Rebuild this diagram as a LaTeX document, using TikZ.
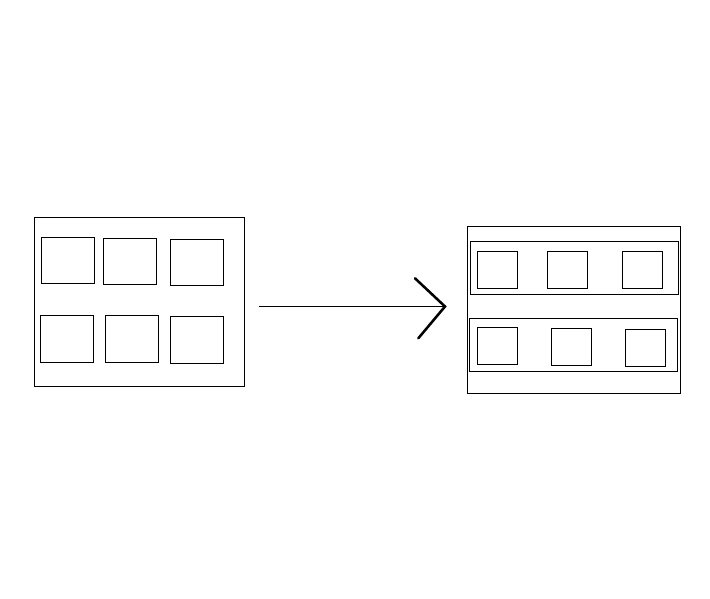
\documentclass[tikz,border=0pt]{standalone}
\usepackage{tikz}
\usetikzlibrary{calc}
\usetikzlibrary{positioning}

\begin{document}
\begin{tikzpicture}[x=0.75pt, y=-0.75pt, line width=0.75pt]
			\useasboundingbox (0,0) rectangle (710,599);

			% left: six loose boxes
			\draw (34.5,217.5) rectangle (244.5,386.5);
			\draw (41.5,237.5) rectangle (94.5,283.5);
			\draw (103.5,238.5) rectangle (156.5,284.5);
			\draw (170.5,239.5) rectangle (223.5,285.5);
			\draw (40.5,315.5) rectangle (93.5,362.5);
			\draw (105.5,315.5) rectangle (158.5,362.5);
			\draw (170.5,316.5) rectangle (223.5,363.5);

			% arrow
			\coordinate (tail) at (259,306.5);
			\coordinate (tip) at (445,306.5);
			\coordinate (u) at (415,278.3);
			\coordinate (l) at (418.3,338.3);
			\draw (tail) -- (tip);
			\draw[line width=1.9pt, line cap=round] (u) -- (tip) -- (l);

			% right: boxes grouped in two rows
			\draw (467.5,226.5) rectangle (680.5,393.5);
			\draw (470.5,241.5) rectangle (678.5,294.5);
			\draw (477.5,251.5) rectangle (517.5,288.5);
			\draw (547.5,251.5) rectangle (587.5,288.5);
			\draw (622.5,251.5) rectangle (662.5,288.5);
			\draw (469.5,318.5) rectangle (677.5,371.5);
			\draw (477.5,327.5) rectangle (517.5,364.5);
			\draw (551.5,328.5) rectangle (591.5,365.5);
			\draw (625.5,329.5) rectangle (665.5,366.5);
\end{tikzpicture}
\end{document}
